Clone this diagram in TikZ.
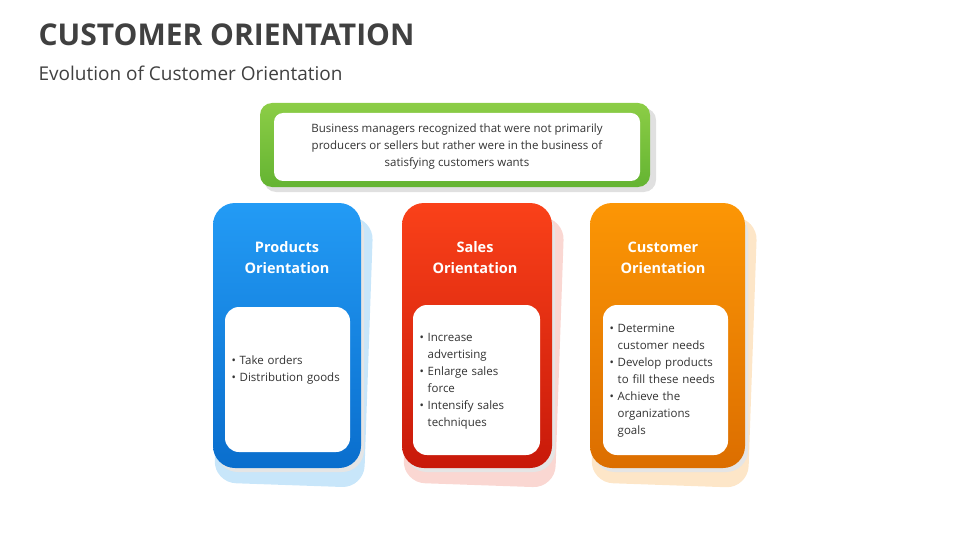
\documentclass[tikz,border=0pt]{standalone}
\usepackage{fontspec}
\setmainfont{Open Sans}
\definecolor{bA}{RGB}{35,155,245}\definecolor{bB}{RGB}{10,110,205}\definecolor{bC}{RGB}{200,230,250}
\definecolor{rA}{RGB}{250,65,25}\definecolor{rB}{RGB}{200,25,10}\definecolor{rC}{RGB}{250,215,210}
\definecolor{oA}{RGB}{252,150,5}\definecolor{oB}{RGB}{220,110,0}\definecolor{oC}{RGB}{253,230,200}
\definecolor{gA}{RGB}{140,205,70}\definecolor{gB}{RGB}{100,180,50}
\begin{document}
\begin{tikzpicture}[x=1pt,y=-1pt,
  card/.style={rounded corners=22pt},
  ttl/.style={text=white,font=\fontsize{14.5}{21}\selectfont\bfseries,align=center},
  body/.style={font=\fontsize{11.5}{17}\selectfont,align=left,text=black!80,anchor=west,text width=120pt},
  txt/.style={font=\fontsize{11.5}{17}\selectfont,align=center,text=black!80}]
\useasboundingbox (0,0) rectangle (960,540);
\node[anchor=west,font=\fontsize{30}{36}\selectfont\bfseries,text=black!75] (t) at (35,35) {CUSTOMER ORIENTATION};
\node[anchor=west,font=\fontsize{19}{24}\selectfont,text=black!75] (s) at (35,73) {Evolution of Customer Orientation};
% green box
\fill[black!12,rounded corners=12pt] (264,108) rectangle (656,192);
\shade[top color=gA,bottom color=gB,rounded corners=12pt] (260,103) rectangle (650,187);
\fill[white,rounded corners=9pt] (274,113) rectangle (640,181);
\node[txt] (g) at (457,147) {Business managers recognized that were not primarily\\producers or sellers but rather were in the business of\\satisfying customers wants};
% cards
\foreach \x/\w/\ca/\cb/\cc in {213/148/bA/bB/bC,402/150/rA/rB/rC,590/155/oA/oB/oC}{
  \fill[\cc,card,rotate around={-2:(\x+75,340)}] (\x+6,215) rectangle (\x+\w+8,485);
  \fill[black!10,card] (\x+3,210) rectangle (\x+\w+3,472);
  \shade[top color=\ca,bottom color=\cb,card] (\x,203) rectangle (\x+\w,468);
}
\fill[white,rounded corners=14pt] (225,307) rectangle (350,452);
\fill[white,rounded corners=14pt] (413,305) rectangle (540,455);
\fill[white,rounded corners=14pt] (603,305) rectangle (728,455);
\node[ttl] (pt) at (287,258) {Products\\Orientation};
\node[ttl] (st) at (475,258) {Sales\\Orientation};
\node[ttl] (ct) at (663,258) {Customer\\Orientation};
\node[body] (pb) at (228,370) {\textbullet\ Take orders\\\textbullet\ Distribution goods};
\node[body] (sb) at (416,381) {\textbullet\ Increase\\\phantom{\textbullet\ }advertising\\\textbullet\ Enlarge sales\\\phantom{\textbullet\ }force\\\textbullet\ Intensify sales\\\phantom{\textbullet\ }techniques};
\node[body] (cb) at (606,381) {\textbullet\ Determine\\\phantom{\textbullet\ }customer needs\\\textbullet\ Develop products\\\phantom{\textbullet\ }to fill these needs\\\textbullet\ Achieve the\\\phantom{\textbullet\ }organizations\\\phantom{\textbullet\ }goals};
\end{tikzpicture}
\end{document}
